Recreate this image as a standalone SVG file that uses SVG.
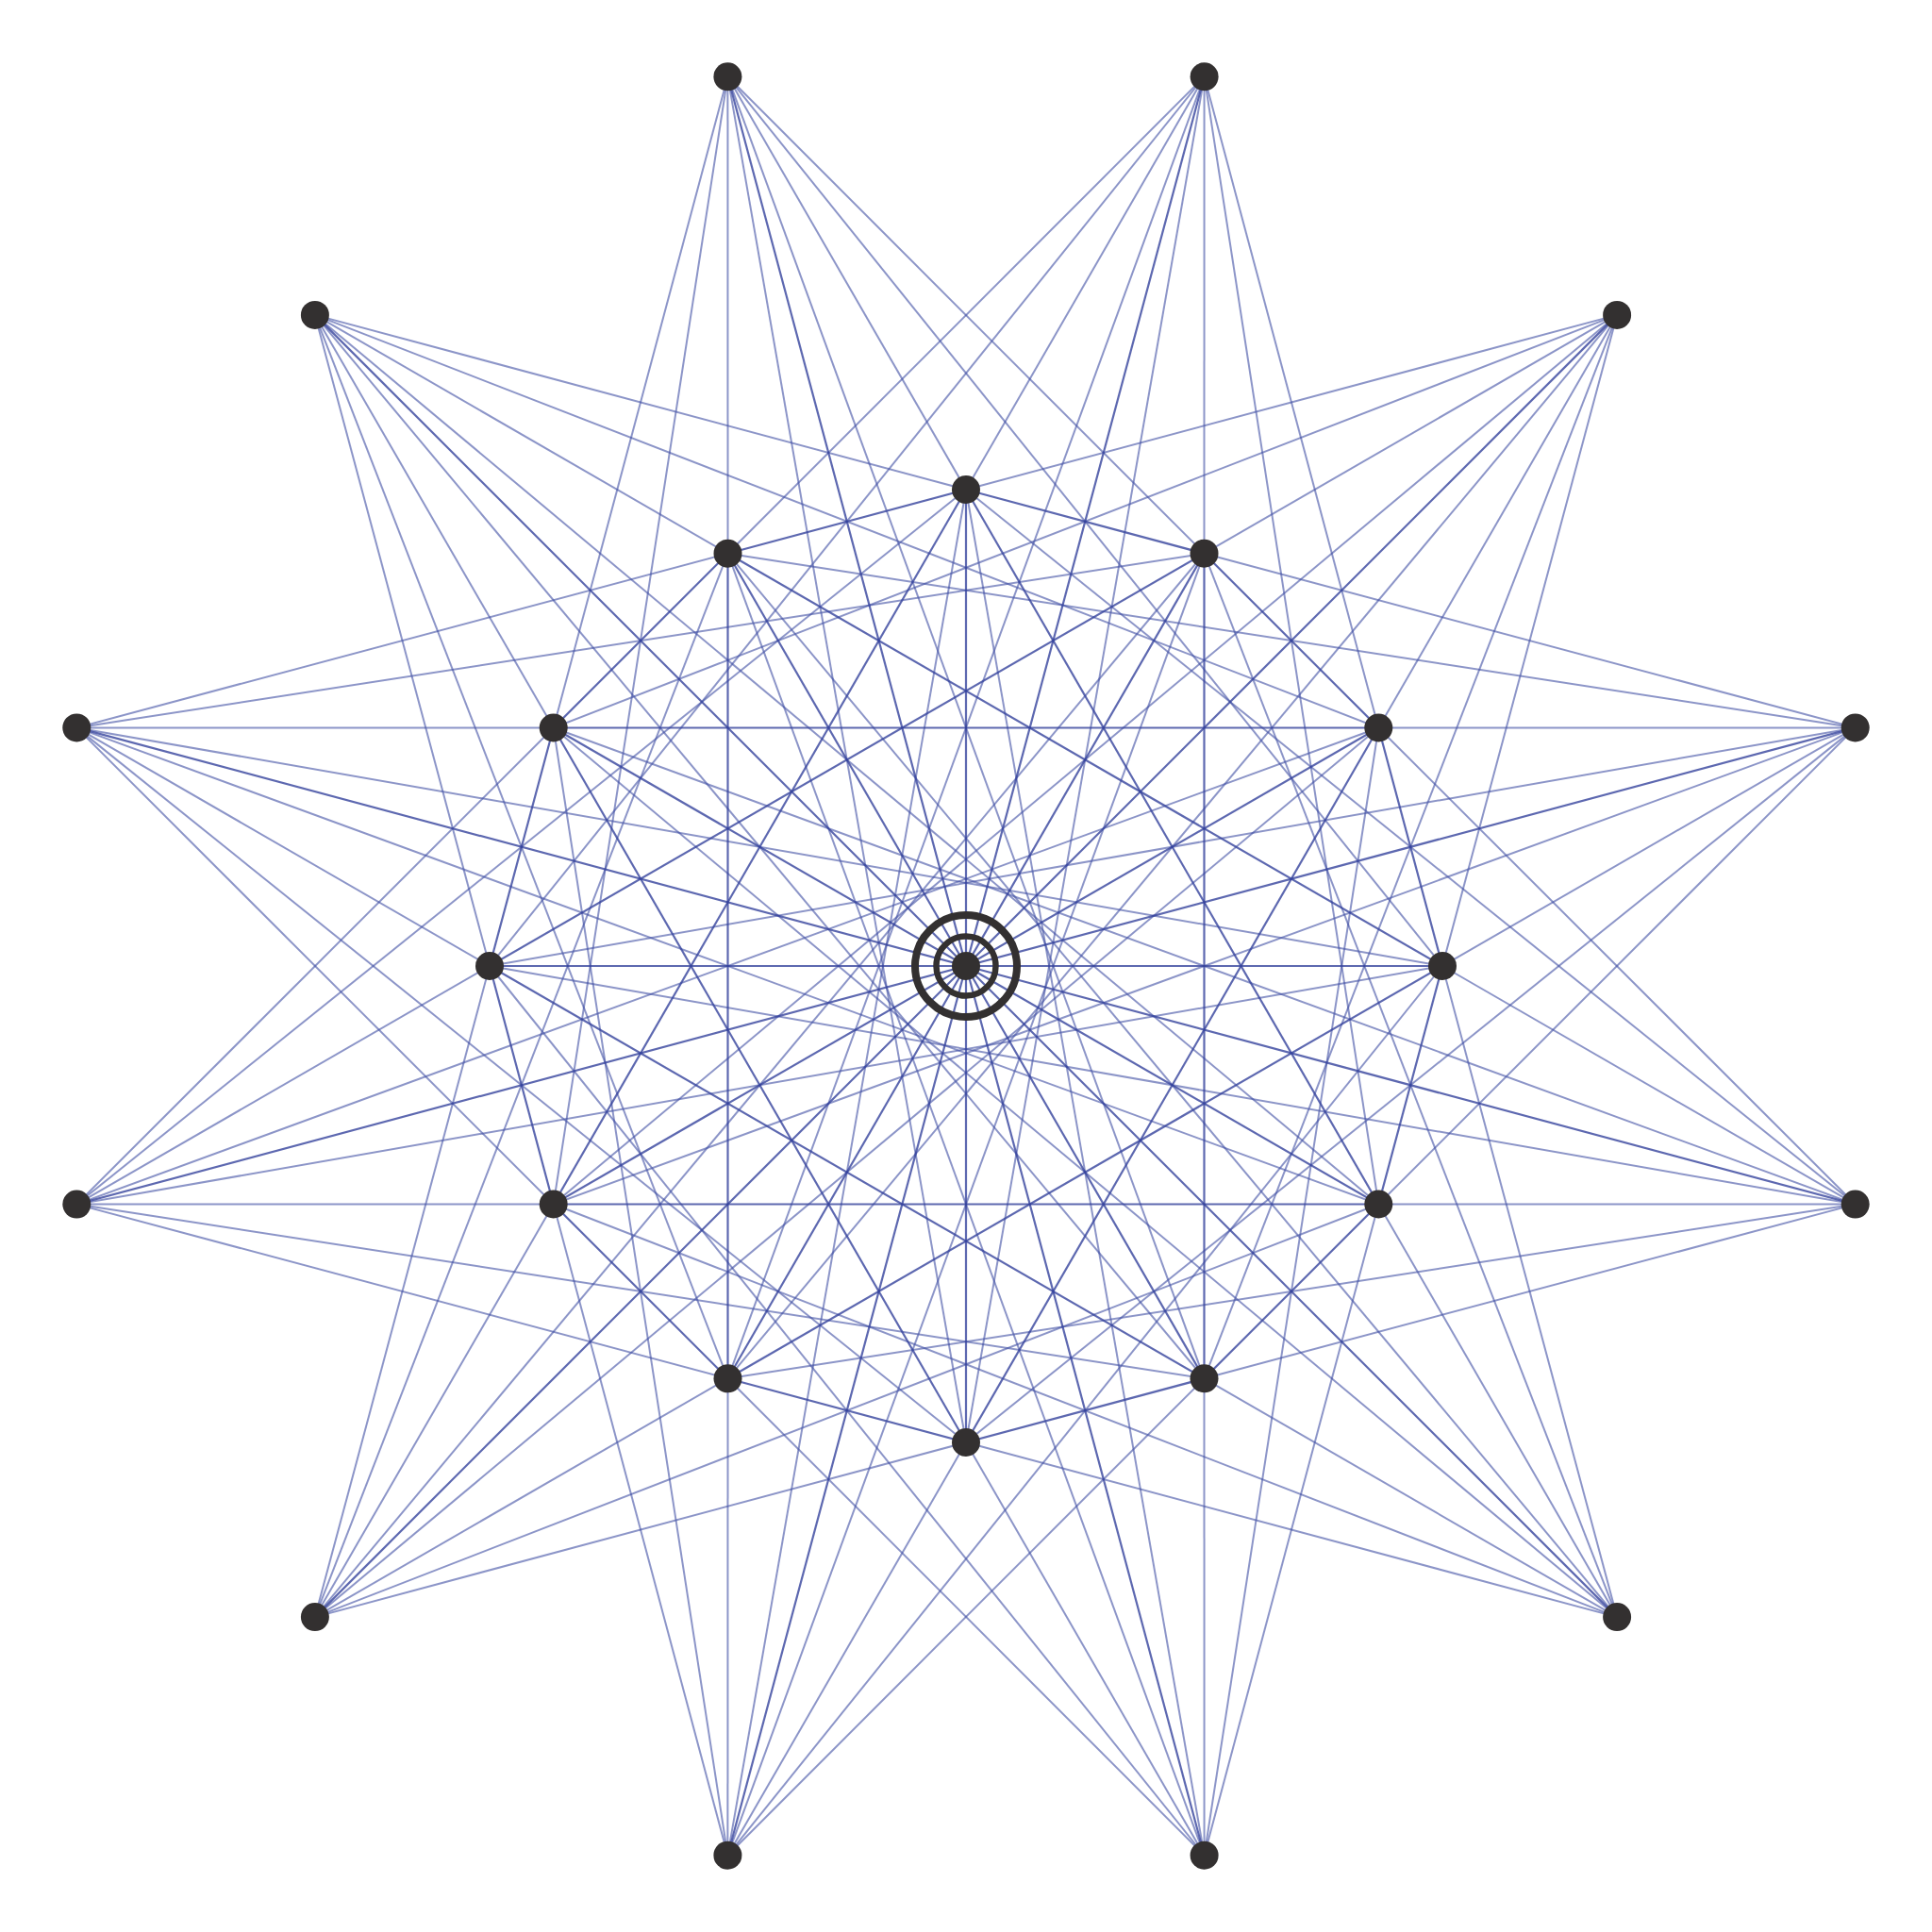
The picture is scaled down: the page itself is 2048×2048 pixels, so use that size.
<svg xmlns="http://www.w3.org/2000/svg" width="2048" height="2048" viewBox="0 0 2048 2048">
<style>
.l{stroke:#3f4ea3;stroke-opacity:0.6;stroke-width:2;fill:none}
.d{stroke:#34429c;stroke-opacity:0.8;stroke-width:2.2;fill:none}
.n{fill:#333030}
.ring{fill:none;stroke:#333030}
</style>
<rect width="2048" height="2048" fill="#ffffff"/>
<g id="edges">
<g class="l">
<!-- O15 -->
<line x1="1966.7" y1="771.4" x2="1529" y2="1024"/><line x1="1966.7" y1="771.4" x2="1461.3" y2="771.5"/><line x1="1966.7" y1="771.4" x2="1276.5" y2="586.7"/><line x1="1966.7" y1="771.4" x2="1461.3" y2="1276.5"/><line x1="1966.7" y1="771.4" x2="771.5" y2="586.7"/><line x1="1966.7" y1="771.4" x2="1024" y2="1529"/><line x1="1966.7" y1="771.4" x2="519" y2="1024"/><line x1="1966.7" y1="771.4" x2="586.7" y2="1276.5"/>
<!-- O45 -->
<line x1="1714.1" y1="333.9" x2="1276.5" y2="586.7"/><line x1="1714.1" y1="333.9" x2="1461.3" y2="771.5"/><line x1="1714.1" y1="333.9" x2="1024" y2="519"/><line x1="1714.1" y1="333.9" x2="1529" y2="1024"/><line x1="1714.1" y1="333.9" x2="586.7" y2="771.5"/><line x1="1714.1" y1="333.9" x2="1276.5" y2="1461.3"/><line x1="1714.1" y1="333.9" x2="586.7" y2="1276.5"/><line x1="1714.1" y1="333.9" x2="771.5" y2="1461.3"/>
<!-- O75 -->
<line x1="1276.6" y1="81.3" x2="1024" y2="519"/><line x1="1276.6" y1="81.3" x2="1276.5" y2="586.7"/><line x1="1276.6" y1="81.3" x2="771.5" y2="586.7"/><line x1="1276.6" y1="81.3" x2="1461.3" y2="771.5"/><line x1="1276.6" y1="81.3" x2="519" y2="1024"/><line x1="1276.6" y1="81.3" x2="1461.3" y2="1276.5"/><line x1="1276.6" y1="81.3" x2="771.5" y2="1461.3"/><line x1="1276.6" y1="81.3" x2="1024" y2="1529"/>
<!-- O105 -->
<line x1="771.4" y1="81.3" x2="771.5" y2="586.7"/><line x1="771.4" y1="81.3" x2="1024" y2="519"/><line x1="771.4" y1="81.3" x2="586.7" y2="771.5"/><line x1="771.4" y1="81.3" x2="1276.5" y2="586.7"/><line x1="771.4" y1="81.3" x2="586.7" y2="1276.5"/><line x1="771.4" y1="81.3" x2="1529" y2="1024"/><line x1="771.4" y1="81.3" x2="1024" y2="1529"/><line x1="771.4" y1="81.3" x2="1276.5" y2="1461.3"/>
<!-- O135 -->
<line x1="333.9" y1="333.9" x2="586.7" y2="771.5"/><line x1="333.9" y1="333.9" x2="771.5" y2="586.7"/><line x1="333.9" y1="333.9" x2="519" y2="1024"/><line x1="333.9" y1="333.9" x2="1024" y2="519"/><line x1="333.9" y1="333.9" x2="771.5" y2="1461.3"/><line x1="333.9" y1="333.9" x2="1461.3" y2="771.5"/><line x1="333.9" y1="333.9" x2="1276.5" y2="1461.3"/><line x1="333.9" y1="333.9" x2="1461.3" y2="1276.5"/>
<!-- O165 -->
<line x1="81.3" y1="771.4" x2="519" y2="1024"/><line x1="81.3" y1="771.4" x2="586.7" y2="771.5"/><line x1="81.3" y1="771.4" x2="586.7" y2="1276.5"/><line x1="81.3" y1="771.4" x2="771.5" y2="586.7"/><line x1="81.3" y1="771.4" x2="1024" y2="1529"/><line x1="81.3" y1="771.4" x2="1276.5" y2="586.7"/><line x1="81.3" y1="771.4" x2="1461.3" y2="1276.5"/><line x1="81.3" y1="771.4" x2="1529" y2="1024"/>
<!-- O195 -->
<line x1="81.3" y1="1276.6" x2="586.7" y2="1276.5"/><line x1="81.3" y1="1276.6" x2="519" y2="1024"/><line x1="81.3" y1="1276.6" x2="771.5" y2="1461.3"/><line x1="81.3" y1="1276.6" x2="586.7" y2="771.5"/><line x1="81.3" y1="1276.6" x2="1276.5" y2="1461.3"/><line x1="81.3" y1="1276.6" x2="1024" y2="519"/><line x1="81.3" y1="1276.6" x2="1529" y2="1024"/><line x1="81.3" y1="1276.6" x2="1461.3" y2="771.5"/>
<!-- O225 -->
<line x1="333.9" y1="1714.1" x2="771.5" y2="1461.3"/><line x1="333.9" y1="1714.1" x2="586.7" y2="1276.5"/><line x1="333.9" y1="1714.1" x2="1024" y2="1529"/><line x1="333.9" y1="1714.1" x2="519" y2="1024"/><line x1="333.9" y1="1714.1" x2="1461.3" y2="1276.5"/><line x1="333.9" y1="1714.1" x2="771.5" y2="586.7"/><line x1="333.9" y1="1714.1" x2="1461.3" y2="771.5"/><line x1="333.9" y1="1714.1" x2="1276.5" y2="586.7"/>
<!-- O255 -->
<line x1="771.4" y1="1966.7" x2="1024" y2="1529"/><line x1="771.4" y1="1966.7" x2="771.5" y2="1461.3"/><line x1="771.4" y1="1966.7" x2="1276.5" y2="1461.3"/><line x1="771.4" y1="1966.7" x2="586.7" y2="1276.5"/><line x1="771.4" y1="1966.7" x2="1529" y2="1024"/><line x1="771.4" y1="1966.7" x2="586.7" y2="771.5"/><line x1="771.4" y1="1966.7" x2="1276.5" y2="586.7"/><line x1="771.4" y1="1966.7" x2="1024" y2="519"/>
<!-- O285 -->
<line x1="1276.6" y1="1966.7" x2="1276.5" y2="1461.3"/><line x1="1276.6" y1="1966.7" x2="1024" y2="1529"/><line x1="1276.6" y1="1966.7" x2="1461.3" y2="1276.5"/><line x1="1276.6" y1="1966.7" x2="771.5" y2="1461.3"/><line x1="1276.6" y1="1966.7" x2="1461.3" y2="771.5"/><line x1="1276.6" y1="1966.7" x2="519" y2="1024"/><line x1="1276.6" y1="1966.7" x2="1024" y2="519"/><line x1="1276.6" y1="1966.7" x2="771.5" y2="586.7"/>
<!-- O315 -->
<line x1="1714.1" y1="1714.1" x2="1461.3" y2="1276.5"/><line x1="1714.1" y1="1714.1" x2="1276.5" y2="1461.3"/><line x1="1714.1" y1="1714.1" x2="1529" y2="1024"/><line x1="1714.1" y1="1714.1" x2="1024" y2="1529"/><line x1="1714.1" y1="1714.1" x2="1276.5" y2="586.7"/><line x1="1714.1" y1="1714.1" x2="586.7" y2="1276.5"/><line x1="1714.1" y1="1714.1" x2="771.5" y2="586.7"/><line x1="1714.1" y1="1714.1" x2="586.7" y2="771.5"/>
<!-- O345 -->
<line x1="1966.7" y1="1276.6" x2="1529" y2="1024"/><line x1="1966.7" y1="1276.6" x2="1461.3" y2="1276.5"/><line x1="1966.7" y1="1276.6" x2="1461.3" y2="771.5"/><line x1="1966.7" y1="1276.6" x2="1276.5" y2="1461.3"/><line x1="1966.7" y1="1276.6" x2="1024" y2="519"/><line x1="1966.7" y1="1276.6" x2="771.5" y2="1461.3"/><line x1="1966.7" y1="1276.6" x2="586.7" y2="771.5"/><line x1="1966.7" y1="1276.6" x2="519" y2="1024"/>
</g>
<g class="d">
<!-- outer to centre -->
<line x1="1966.7" y1="771.4" x2="1024" y2="1024"/><line x1="1714.1" y1="333.9" x2="1024" y2="1024"/><line x1="1276.6" y1="81.3" x2="1024" y2="1024"/><line x1="771.4" y1="81.3" x2="1024" y2="1024"/><line x1="333.9" y1="333.9" x2="1024" y2="1024"/><line x1="81.3" y1="771.4" x2="1024" y2="1024"/><line x1="81.3" y1="1276.6" x2="1024" y2="1024"/><line x1="333.9" y1="1714.1" x2="1024" y2="1024"/><line x1="771.4" y1="1966.7" x2="1024" y2="1024"/><line x1="1276.6" y1="1966.7" x2="1024" y2="1024"/><line x1="1714.1" y1="1714.1" x2="1024" y2="1024"/><line x1="1966.7" y1="1276.6" x2="1024" y2="1024"/>
<!-- inner to centre -->
<line x1="1529" y1="1024" x2="1024" y2="1024"/><line x1="1461.3" y1="771.5" x2="1024" y2="1024"/><line x1="1276.5" y1="586.7" x2="1024" y2="1024"/><line x1="1024" y1="519" x2="1024" y2="1024"/><line x1="771.5" y1="586.7" x2="1024" y2="1024"/><line x1="586.7" y1="771.5" x2="1024" y2="1024"/><line x1="519" y1="1024" x2="1024" y2="1024"/><line x1="586.7" y1="1276.5" x2="1024" y2="1024"/><line x1="771.5" y1="1461.3" x2="1024" y2="1024"/><line x1="1024" y1="1529" x2="1024" y2="1024"/><line x1="1276.5" y1="1461.3" x2="1024" y2="1024"/><line x1="1461.3" y1="1276.5" x2="1024" y2="1024"/>
<!-- inner sides -->
<line x1="1529" y1="1024" x2="1461.3" y2="771.5"/><line x1="1461.3" y1="771.5" x2="1276.5" y2="586.7"/><line x1="1276.5" y1="586.7" x2="1024" y2="519"/><line x1="1024" y1="519" x2="771.5" y2="586.7"/><line x1="771.5" y1="586.7" x2="586.7" y2="771.5"/><line x1="586.7" y1="771.5" x2="519" y2="1024"/><line x1="519" y1="1024" x2="586.7" y2="1276.5"/><line x1="586.7" y1="1276.5" x2="771.5" y2="1461.3"/><line x1="771.5" y1="1461.3" x2="1024" y2="1529"/><line x1="1024" y1="1529" x2="1276.5" y2="1461.3"/><line x1="1276.5" y1="1461.3" x2="1461.3" y2="1276.5"/><line x1="1461.3" y1="1276.5" x2="1529" y2="1024"/>
<!-- inner 120-degree chords -->
<line x1="1529" y1="1024" x2="771.5" y2="586.7"/><line x1="1461.3" y1="771.5" x2="586.7" y2="771.5"/><line x1="1276.5" y1="586.7" x2="519" y2="1024"/><line x1="1024" y1="519" x2="586.7" y2="1276.5"/><line x1="771.5" y1="586.7" x2="771.5" y2="1461.3"/><line x1="586.7" y1="771.5" x2="1024" y2="1529"/><line x1="519" y1="1024" x2="1276.5" y2="1461.3"/><line x1="586.7" y1="1276.5" x2="1461.3" y2="1276.5"/><line x1="771.5" y1="1461.3" x2="1529" y2="1024"/><line x1="1024" y1="1529" x2="1461.3" y2="771.5"/><line x1="1276.5" y1="1461.3" x2="1276.5" y2="586.7"/><line x1="1461.3" y1="1276.5" x2="1024" y2="519"/>
</g>
</g>
<g id="nodes">
<g id="o15"><circle class="n" cx="1966.7" cy="771.4" r="15"/></g>
<g id="o45"><circle class="n" cx="1714.1" cy="333.9" r="15"/></g>
<g id="o75"><circle class="n" cx="1276.6" cy="81.3" r="15"/></g>
<g id="o105"><circle class="n" cx="771.4" cy="81.3" r="15"/></g>
<g id="o135"><circle class="n" cx="333.9" cy="333.9" r="15"/></g>
<g id="o165"><circle class="n" cx="81.3" cy="771.4" r="15"/></g>
<g id="o195"><circle class="n" cx="81.3" cy="1276.6" r="15"/></g>
<g id="o225"><circle class="n" cx="333.9" cy="1714.1" r="15"/></g>
<g id="o255"><circle class="n" cx="771.4" cy="1966.7" r="15"/></g>
<g id="o285"><circle class="n" cx="1276.6" cy="1966.7" r="15"/></g>
<g id="o315"><circle class="n" cx="1714.1" cy="1714.1" r="15"/></g>
<g id="o345"><circle class="n" cx="1966.7" cy="1276.6" r="15"/></g>
<g id="i0"><circle class="n" cx="1529" cy="1024" r="15"/></g>
<g id="i30"><circle class="n" cx="1461.3" cy="771.5" r="15"/></g>
<g id="i60"><circle class="n" cx="1276.5" cy="586.7" r="15"/></g>
<g id="i90"><circle class="n" cx="1024" cy="519" r="15"/></g>
<g id="i120"><circle class="n" cx="771.5" cy="586.7" r="15"/></g>
<g id="i150"><circle class="n" cx="586.7" cy="771.5" r="15"/></g>
<g id="i180"><circle class="n" cx="519" cy="1024" r="15"/></g>
<g id="i210"><circle class="n" cx="586.7" cy="1276.5" r="15"/></g>
<g id="i240"><circle class="n" cx="771.5" cy="1461.3" r="15"/></g>
<g id="i270"><circle class="n" cx="1024" cy="1529" r="15"/></g>
<g id="i300"><circle class="n" cx="1276.5" cy="1461.3" r="15"/></g>
<g id="i330"><circle class="n" cx="1461.3" cy="1276.5" r="15"/></g>
<g id="center">
<circle class="n" cx="1024" cy="1024" r="15"/>
<circle class="ring" cx="1024" cy="1024" r="31.5" stroke-width="6.5"/>
<circle class="ring" cx="1024" cy="1024" r="54" stroke-width="8"/>
</g>
</g>
</svg>
